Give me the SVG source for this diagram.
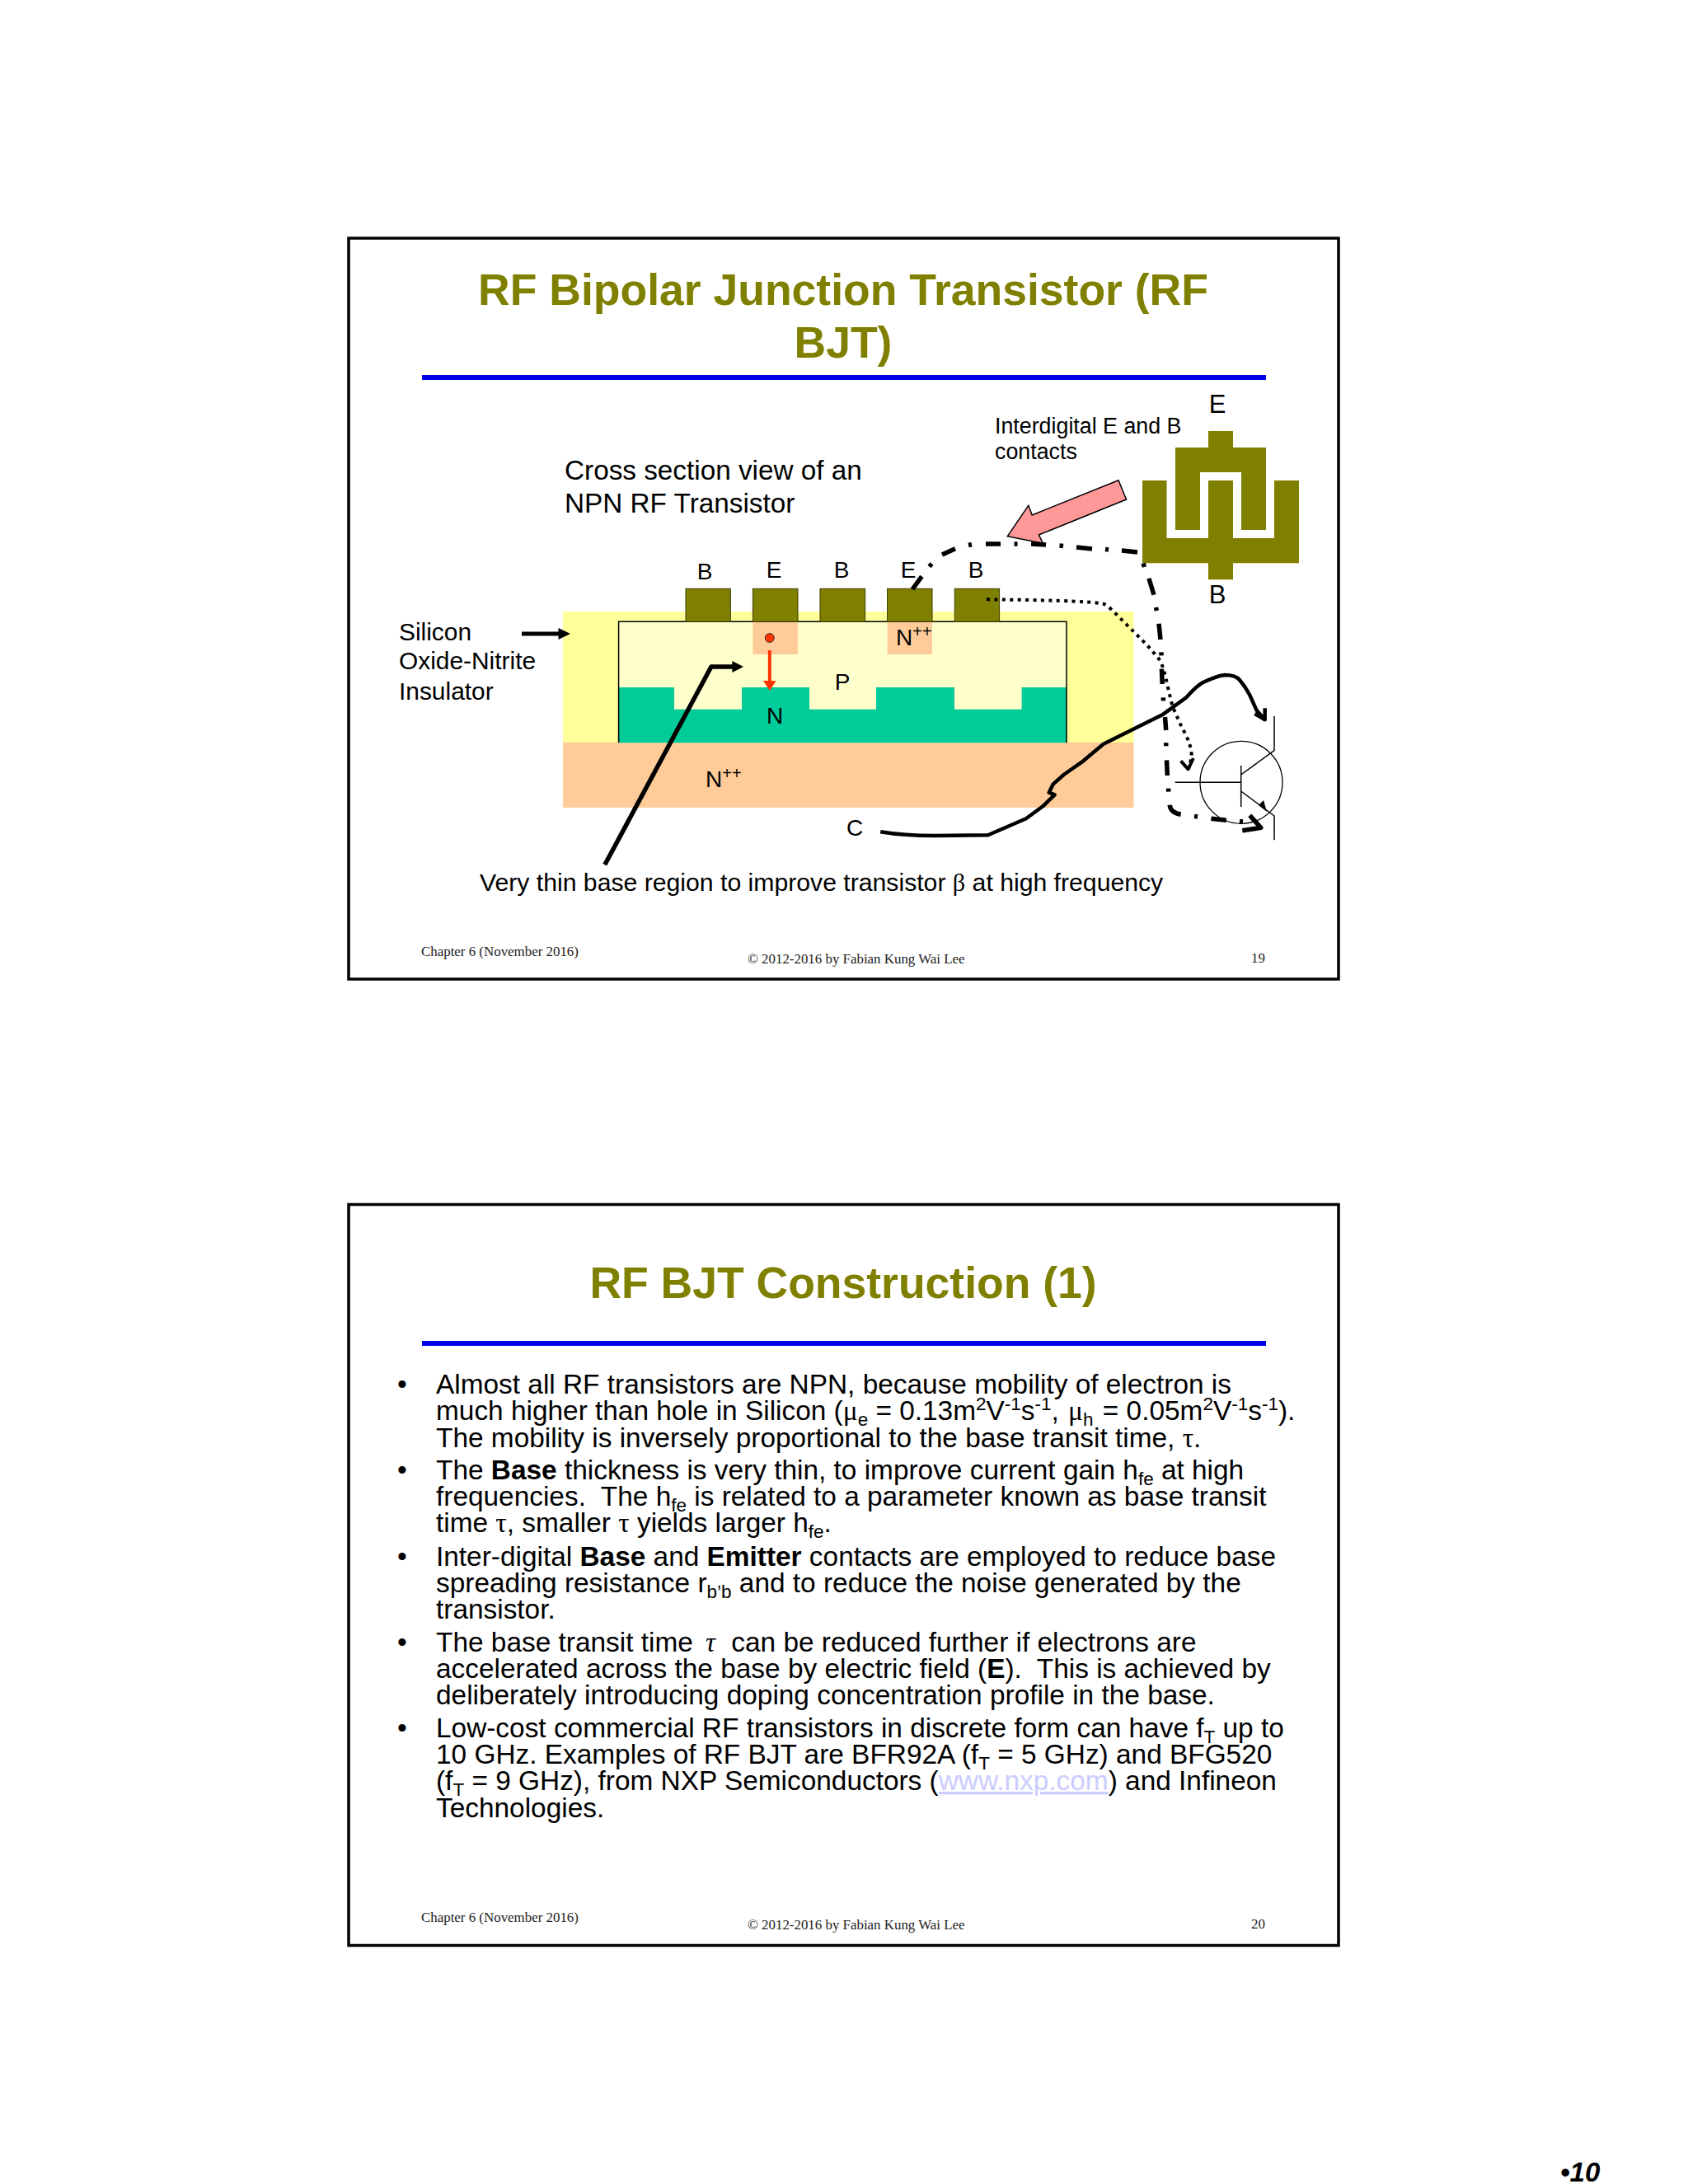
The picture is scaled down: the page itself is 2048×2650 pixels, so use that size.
<svg xmlns="http://www.w3.org/2000/svg" width="2048" height="2650" viewBox="0 0 2048 2650">
<style>
text{font-family:"Liberation Sans",Arial,sans-serif;fill:#000}
.frame{fill:#fff;stroke:#000;stroke-width:3.5}
.rule{fill:#0000e6}
.title{font-size:53.5px;font-weight:700;fill:#808000;text-anchor:middle}
.ft{font-family:"Liberation Serif","Times New Roman",serif;font-size:16.9px;fill:#222}
.l{font-size:31px}.xl{font-size:33.3px}.m{font-size:26.8px}.lb{font-size:28px}.ml{font-size:29.900px}
.c{text-anchor:middle}
.b{font-size:33.400px}
.s{font-size:22.500px}
.sp{font-size:20px}
.g{font-family:"Liberation Serif",serif}
.bd{font-weight:700}
.ol{fill:#808000}
.ct{fill:#808000;stroke:#3a3a00;stroke-width:1}
.y{fill:#FFFF99}.o{fill:#FFCC99}.p{fill:#FFFFCC}.gr{fill:#00CC99}
.ln{fill:none;stroke:#000;stroke-linejoin:round}
</style>
<rect width="2048" height="2650" fill="#fff"/>
<g id="slide-19">
<rect class="frame" x="423" y="289" width="1201" height="899"/>
<g id="title-19"><text class="title" x="1023" y="370">RF Bipolar Junction Transistor (RF</text><text class="title" x="1023" y="434">BJT)</text></g>
<rect class="rule" x="512" y="455" width="1024" height="6"/>
<text class="xl" x="685" y="582">Cross section view of an</text>
<text class="xl" x="685" y="622">NPN RF Transistor</text>
<text class="m" x="1207" y="526">Interdigital E and B</text>
<text class="m" x="1207" y="557">contacts</text>
<g id="interdigital">
<path class="ol" d="M1466 523H1496V543H1536V643H1506V573H1456V643H1426V543H1466Z"/>
<path class="ol" d="M1386 583H1415.500V653H1466V583H1496V653H1546V583H1576V683.300H1496V703.300H1466V683.300H1386Z"/>
<text class="l c" x="1477" y="501">E</text>
<text class="l c" x="1477" y="732">B</text>
</g>
<path id="pink-arrow" d="M1222.400 650.700L1247.800 613.300L1252.200 625L1357 582.700L1366.500 606L1260.400 649L1265.300 659.300Z" fill="#FF9999" stroke="#000" stroke-width="1.500"/>
<g id="cross-section">
<rect class="y" x="683" y="742" width="692.500" height="160"/>
<rect class="o" x="683" y="901" width="692.500" height="79"/>
<rect class="p" x="750.600" y="754.300" width="543.400" height="147"/>
<path class="gr" d="M750.600 834H818V860.700H900V834H982V860.700H1063V834H1158V860.700H1239.600V834H1294V901.300H750.600Z"/>
<path class="ln" d="M750.600 901.300V754.300H1294V901.300" stroke-width="1.500"/>
<rect class="o" x="913.400" y="755" width="54.600" height="39"/>
<rect class="o" x="1076.600" y="755" width="54.400" height="39"/>
<rect class="ct" x="832" y="714.300" width="54.300" height="40"/>
<rect class="ct" x="913.400" y="714.300" width="54.600" height="40"/>
<rect class="ct" x="995" y="714.300" width="54.600" height="40"/>
<rect class="ct" x="1076.600" y="714.300" width="54.400" height="40"/>
<rect class="ct" x="1158.300" y="714.300" width="54.300" height="40"/>
<text class="lb c" x="855" y="703">B</text><text class="lb c" x="939" y="701">E</text><text class="lb c" x="1021" y="701">B</text><text class="lb c" x="1102" y="701">E</text><text class="lb c" x="1184" y="701">B</text>
<text class="lb" x="1087" y="783">N<tspan class="sp" dy="-10">++</tspan></text>
<text class="lb c" x="1022" y="837">P</text>
<text class="lb c" x="940" y="878">N</text>
<text class="lb" x="856" y="955">N<tspan class="sp" dy="-10">++</tspan></text>
<text class="lb c" x="1037" y="1014">C</text>
<circle cx="933.800" cy="774" r="5.500" fill="#FF3300" stroke="#333" stroke-width="1"/>
<path d="M933.800 789V830" stroke="#FF3300" stroke-width="4"/><path d="M926 826H941.600L933.800 838Z" fill="#FF3300"/>
</g>
<g id="silicon-label"><text class="ml" x="484" y="777">Silicon</text><text class="ml" x="484" y="812">Oxide-Nitrite</text><text class="ml" x="484" y="849">Insulator</text></g>
<text x="582" y="1081" style="font-size:30.200px">Very thin base region to improve transistor <tspan class="g">β</tspan> at high frequency</text>
<g id="connectors">
<path class="ln" stroke-width="5" d="M633 769H680"/><path d="M677.500 762L692 769L677.500 776Z"/>
<path class="ln" stroke-width="5.500" d="M733.800 1049.300L862.900 809H890"/>
<path d="M888.400 802L902 809L888.400 816Z"/>
<path class="ln" stroke-width="4" stroke-dasharray="4 5.400" d="M1197 727.300C1260 728 1320 729 1338.800 732.700C1345 735 1352 743 1359 750L1392 783L1408 801.700C1412 812 1414 820 1416 830L1422.400 856.700L1432.700 880C1438 890 1441 896 1442.900 901.700C1445 908 1446 915 1445.700 920L1441.600 933"/>
<path class="ln" stroke-width="4" d="M1432.700 923.300L1441.600 933.300L1447.800 920"/>
<path class="ln" stroke-width="5.500" d="M1107 715L1118.400 699.300M1127.500 687.500L1130.500 684M1143 673L1159 665.700M1175 661.500L1179 660.700M1196 660H1214M1230.500 660H1234.500M1251 660L1269 661M1285.500 662L1290 662.500M1306 664L1325 666M1341 666.500L1345 667M1361 668L1380 670M1387 683.500L1388.500 688M1393.900 701.700L1400 721.700M1402.500 737L1403.300 741M1406 756.700L1408 776M1408.900 791.300L1409.100 795.300M1409.400 811.700L1410.200 830M1411.300 846.300L1411.500 850.300M1413.500 870L1414.700 886M1414.700 901.300V905.300M1415.500 922.300L1416.300 941M1417.500 956.700L1417.700 960.700M1419.200 976.700Q1420 986 1432.700 988.300M1449 990.400L1453 991M1469.400 993.300L1487.800 995.300M1504 996.500L1508 996.900"/>
<path class="ln" stroke-width="5.500" d="M1516.300 989.300L1529.800 1004.300L1507.300 1007.700"/>
<path class="ln" stroke-width="4.500" d="M1068.200 1009.300C1090 1013 1110 1014 1134.700 1014L1198.800 1013.300L1244.900 993.300L1265.300 978.300L1279.600 964.300L1272.700 961.700L1277.600 951.700L1290.600 940L1314.300 923.300L1338.800 902.700L1410.200 867.300L1438.800 846.700C1445 840 1452 832 1459.200 828.300C1468 824 1478 820 1485.700 819C1494 819 1500 820 1504 825C1510 832 1513 837 1516.300 843.300L1524.500 861.700L1534.700 873.300"/>
<path class="ln" stroke-width="4.500" d="M1534.700 859.300V873.300L1522.400 866"/>
</g>
<g id="transistor">
<circle cx="1506" cy="949.300" r="50" fill="none" stroke="#000" stroke-width="1.300"/>
<path class="ln" stroke-width="1.500" d="M1425.700 949.300H1505.700M1505.700 929V979M1505.700 940L1546 910.700V869M1505.700 960L1546 990V1019.300"/>
<path d="M1537 985L1527 977L1533 971Z"/>
</g>
<g id="footer-19"><text class="ft" x="511" y="1160">Chapter 6 (November 2016)</text><text class="ft" x="907" y="1169">© 2012-2016 by Fabian Kung Wai Lee</text><text class="ft" x="1518" y="1168">19</text></g>
</g>
<g id="slide-20">
<rect class="frame" x="423" y="1461.500" width="1201" height="899"/>
<text class="title" x="1023" y="1575">RF BJT Construction (1)</text>
<rect class="rule" x="512" y="1627" width="1024" height="6"/>
<g id="bullets">
<text class="b" x="482" y="1691">•</text><text class="b" x="482" y="1795">•</text><text class="b" x="482" y="1900">•</text><text class="b" x="482" y="2004">•</text><text class="b" x="482" y="2108">•</text>
<text class="b" x="529" y="1691">Almost all RF transistors are NPN, because mobility of electron is</text>
<text class="b" x="529" y="1723">much higher than hole in Silicon (<tspan class="g">μ</tspan><tspan class="s" dy="7">e</tspan><tspan dy="-7"> = 0.13m</tspan><tspan class="s" dy="-12">2</tspan><tspan dy="12">V</tspan><tspan class="s" dy="-12">-1</tspan><tspan dy="12">s</tspan><tspan class="s" dy="-12">-1</tspan><tspan dy="12">, </tspan><tspan class="g" dx="2">μ</tspan><tspan class="s" dy="7">h</tspan><tspan dy="-7" dx="2"> = 0.05m</tspan><tspan class="s" dy="-12">2</tspan><tspan dy="12">V</tspan><tspan class="s" dy="-12">-1</tspan><tspan dy="12">s</tspan><tspan class="s" dy="-12">-1</tspan><tspan dy="12">).</tspan></text>
<text class="b" x="529" y="1756">The mobility is inversely proportional to the base transit time, <tspan class="g">τ</tspan>.</text>
<text class="b" x="529" y="1795">The <tspan class="bd">Base</tspan> thickness is very thin, to improve current gain h<tspan class="s" dy="7">fe</tspan><tspan dy="-7"> at high</tspan></text>
<text class="b" x="529" y="1827" xml:space="preserve">frequencies.  The h<tspan class="s" dy="7">fe</tspan><tspan dy="-7"> is related to a parameter known as base transit</tspan></text>
<text class="b" x="529" y="1859">time <tspan class="g">τ</tspan>, smaller <tspan class="g">τ</tspan> yields larger h<tspan class="s" dy="7">fe</tspan><tspan dy="-7">.</tspan></text>
<text class="b" x="529" y="1900">Inter-digital <tspan class="bd">Base</tspan> and <tspan class="bd">Emitter</tspan> contacts are employed to reduce base</text>
<text class="b" x="529" y="1932">spreading resistance r<tspan class="s" dy="7">b’b</tspan><tspan dy="-7"> and to reduce the noise generated by the</tspan></text>
<text class="b" x="529" y="1964">transistor.</text>
<text class="b" x="529" y="2004">The base transit time <tspan class="g" font-style="italic" dx="6">τ</tspan><tspan dx="10"> can be reduced further if electrons are</tspan></text>
<text class="b" x="529" y="2036" xml:space="preserve">accelerated across the base by electric field (<tspan class="bd">E</tspan>).  This is achieved by</text>
<text class="b" x="529" y="2068">deliberately introducing doping concentration profile in the base.</text>
<text class="b" x="529" y="2108">Low-cost commercial RF transistors in discrete form can have f<tspan class="s" dy="7">T</tspan><tspan dy="-7"> up to</tspan></text>
<text class="b" x="529" y="2140">10 GHz. Examples of RF BJT are BFR92A (f<tspan class="s" dy="7">T</tspan><tspan dy="-7"> = 5 GHz) and BFG520</tspan></text>
<text class="b" x="529" y="2172">(f<tspan class="s" dy="7">T</tspan><tspan dy="-7"> = 9 GHz), from NXP Semiconductors (</tspan><tspan style="fill:#CCCCFF" text-decoration="underline">www.nxp.com</tspan>) and Infineon</text>
<text class="b" x="529" y="2205">Technologies.</text>
</g>
<g id="footer-20"><text class="ft" x="511" y="2332">Chapter 6 (November 2016)</text><text class="ft" x="907" y="2341">© 2012-2016 by Fabian Kung Wai Lee</text><text class="ft" x="1518" y="2340">20</text></g>
</g>
<text id="page-number" x="1893" y="2647" font-size="33" font-weight="700" font-style="italic">•10</text>
</svg>
